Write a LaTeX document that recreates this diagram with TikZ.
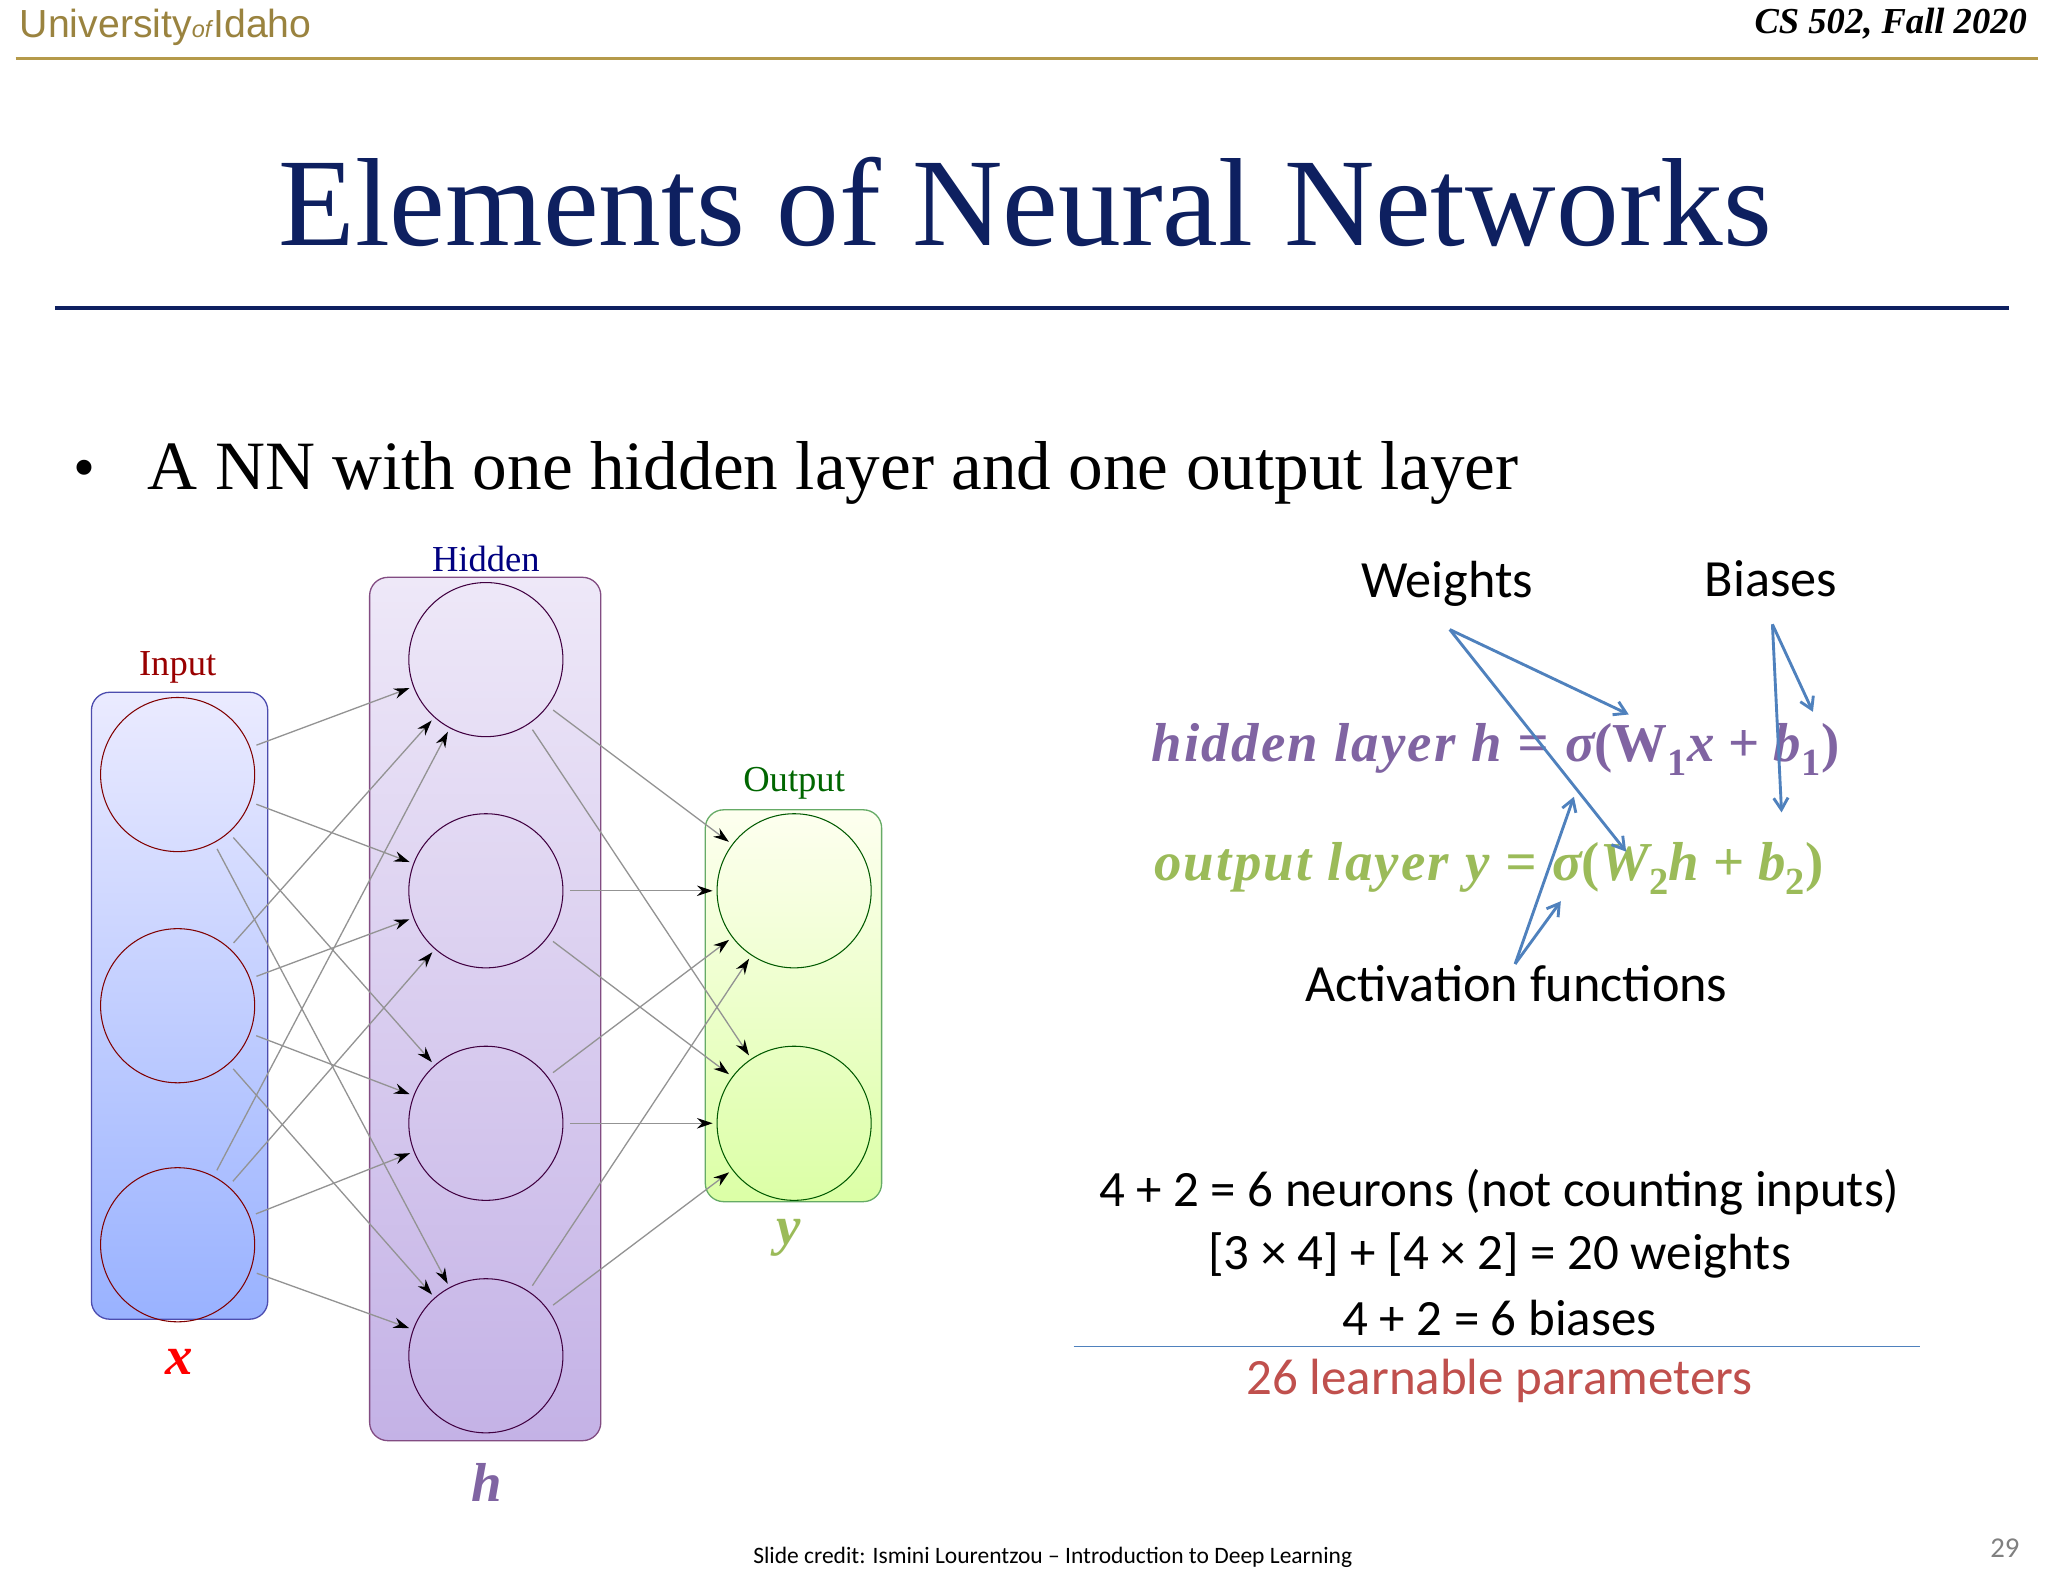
\documentclass[tikz,border=0pt]{standalone}
\usepackage{fontspec}
\setmainfont{Liberation Serif}
\newfontfamily\calfont{Carlito}
\newfontfamily\lsans{Liberation Sans}
\usetikzlibrary{arrows.meta}
\definecolor{navy}{HTML}{0E2060}
\definecolor{gold}{HTML}{B59A4A}
\definecolor{eqpurple}{HTML}{8064A2}
\definecolor{eqgreen}{HTML}{9BBB59}
\definecolor{redlab}{HTML}{C0504D}
\definecolor{arrblue}{HTML}{4F81BD}
\definecolor{hidtop}{HTML}{EEE8F8}
\definecolor{hidbot}{HTML}{C4B2E6}
\newcommand{\bi}{\bfseries\itshape\addfontfeature{LetterSpace=4}}
\newcommand{\sbs}[1]{\textsubscript{\upshape #1}}
\newcommand{\eqone}{{\bi hidden layer h = σ}{\bfseries(W\sbs{1}}{\bi x} {\bfseries +} {\bi b}{\bfseries\sbs{1})}}
\newcommand{\eqtwo}{{\bi output layer y = σ}{\bfseries(}{\bi W}{\bfseries\sbs{2}}{\bi h} {\bfseries +} {\bi b}{\bfseries\sbs{2})}}
\tikzset{
 neuron/.style={circle,draw=#1,line width=0.8pt,minimum size=118pt,inner sep=0},
 conn/.style={draw=gray!85,line width=1pt,-{Stealth[length=12pt,width=8pt,black]},shorten <=5pt,shorten >=3pt},
 ann/.style={draw=arrblue,line width=2.2pt,-{Straight Barb[length=9pt,width=11pt]}},
 layerbox/.style={rounded corners=14pt,line width=1pt}
}
\begin{document}
\begin{tikzpicture}[x=1pt,y=-1pt]
\useasboundingbox (0,0) rectangle (1568,1211);
\fill[white] (0,0) rectangle (1568,1211);
% header
\node[anchor=west,text=gold!85!black,inner sep=0] (uni) at (15,21) {\lsans\fontsize{30}{30}\selectfont University\textit{\fontsize{18}{18}\selectfont of}Idaho};
\node[anchor=east,inner sep=0] (course) at (1552,18) {\fontsize{28}{28}\selectfont\bfseries\itshape CS 502, Fall 2020};
\draw[gold,line width=2pt] (12,45) -- (1560,45);
\node[text=navy] (title) at (785,155) {\fontsize{96}{96}\selectfont Elements of Neural Networks};
\draw[navy,line width=3pt] (42,236) -- (1538,236);
\node (bul) at (65,363) {\fontsize{48}{48}\selectfont\textbullet};
\node[anchor=west,inner sep=0] (btxt) at (113,362) {\fontsize{53}{53}\selectfont A NN with one hidden layer and one output layer};
% boxes
\shade[layerbox,top color=blue!8,bottom color=blue!35!cyan!20!white!75!blue,draw=blue!55!black!70] (70,530) rectangle (205,1010);
\shade[layerbox,top color=hidtop,bottom color=hidbot,draw=violet!60!black!70] (283,442) rectangle (460,1103);
\shade[layerbox,top color=green!8!yellow!6,bottom color=green!40!yellow!35,draw=green!45!black!60] (540,620) rectangle (675,920);
\node[text=red!60!black] (inl) at (136,511) {\fontsize{28}{28}\selectfont Input};
\node[text=blue!50!black] (hdl) at (372,428) {\fontsize{28}{28}\selectfont Hidden};
\node[text=green!40!black] (oul) at (608,600) {\fontsize{28}{28}\selectfont Output};
\foreach \i/\y in {1/593,2/770,3/953} \node[neuron=red!50!black] (i\i) at (136,\y) {};
\foreach \i/\y in {1/505,2/682,3/860,4/1038} \node[neuron=violet!50!black] (h\i) at (372,\y) {};
\foreach \i/\y in {1/682,2/860} \node[neuron=green!35!black] (o\i) at (608,\y) {};
\foreach \a in {1,2,3} \foreach \b in {1,2,3,4} \draw[conn] (i\a) -- (h\b);
\foreach \a in {1,2,3,4} \foreach \b in {1,2} \draw[conn] (h\a) -- (o\b);
\node[text=red] (xl) at (137,1043) {\fontsize{42}{42}\selectfont\bi x};
\node[text=eqpurple] (hl) at (373,1135) {\fontsize{42}{42}\selectfont\bi h};
\node[text=eqgreen] (yl) at (604,948) {\fontsize{42}{42}\selectfont\bi y};
% equations
\node (wt) at (1108,447) {\calfont\fontsize{40}{40}\selectfont Weights};
\node (bs) at (1356,443) {\calfont\fontsize{40}{40}\selectfont Biases};
\node[text=eqpurple] (eq1) at (1145,574) {\fontsize{42}{42}\selectfont\eqone};
\node[text=eqgreen] (eq2) at (1140,665) {\fontsize{42}{42}\selectfont\eqtwo};
\node (act) at (1161,753) {\calfont\fontsize{40}{40}\selectfont Activation functions};
\coordinate (wA) at (1110,482); \coordinate (w1) at (1247,547); \coordinate (w2) at (1245,652);
\coordinate (bA) at (1357,478); \coordinate (b1) at (1388,545); \coordinate (b2) at (1364,622);
\coordinate (aA) at (1160,738); \coordinate (a1) at (1205,610); \coordinate (a2) at (1195,690);
\draw[ann] (wA) -- (w1); \draw[ann] (wA) -- (w2);
\draw[ann] (bA) -- (b1); \draw[ann] (bA) -- (b2);
\draw[ann] (aA) -- (a1); \draw[ann] (aA) -- (a2);
% counts
\node (c1) at (1148,913) {\calfont\fontsize{39}{39}\selectfont 4 + 2 = 6 neurons (not counting inputs)};
\node (c2) at (1148,961) {\calfont\fontsize{39}{39}\selectfont [3 × 4] + [4 × 2] = 20 weights};
\node (c3) at (1148,1009) {\calfont\fontsize{39}{39}\selectfont 4 + 2 = 6 biases};
\draw[arrblue,line width=1.2pt] (822,1031) -- (1470,1031);
\node[text=redlab] (c4) at (1148,1057) {\calfont\fontsize{39}{39}\selectfont 26 learnable parameters};
\node (cred) at (806,1192) {\calfont\fontsize{18}{18}\selectfont Slide credit: Ismini Lourentzou – Introduction to Deep Learning};
\node[text=gray] (pg) at (1535,1185) {\calfont\fontsize{22}{22}\selectfont 29};
\end{tikzpicture}
\end{document}
